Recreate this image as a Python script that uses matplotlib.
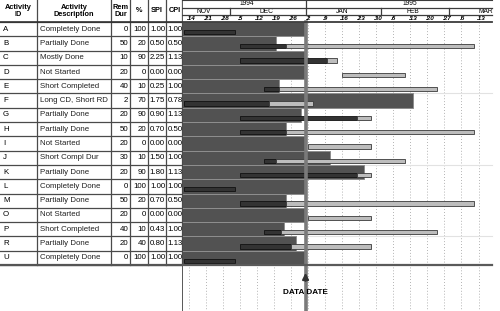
"""
Earned-value Gantt chart: activity table on the left, schedule bars
on the right with the data date marked.
"""

import numpy as np
import matplotlib.pyplot as plt
import matplotlib.dates as mdates

plt.rcParams['font.family'] = ['Liberation Sans', 'DejaVu Sans']

ids = ['A', 'B', 'C', 'D', 'E', 'F', 'G', 'H', 'I', 'J', 'K', 'L', 'M',
       'O', 'P', 'R', 'U']
descs = ['Completely Done', 'Partially Done', 'Mostly Done', 'Not Started',
         'Short Completed', 'Long CD, Short RD', 'Partially Done',
         'Partially Done', 'Not Started', 'Short Compl Dur', 'Partially Done',
         'Completely Done', 'Partially Done', 'Not Started', 'Short Completed',
         'Partially Done', 'Completely Done']
rem_dur = [0, 50, 10, 20, 40, 2, 20, 50, 20, 30, 20, 0, 50, 20, 40, 20, 0]
pct = [100, 20, 90, 0, 10, 70, 90, 20, 0, 10, 90, 100, 20, 0, 10, 40, 100]
spi = [1.00, 0.50, 2.25, 0.00, 0.25, 1.75, 0.90, 0.70, 0.00, 1.50, 1.80,
       1.00, 0.70, 0.00, 0.43, 0.80, 1.00]
cpi = [1.00, 0.50, 1.13, 0.00, 1.00, 0.78, 1.13, 0.50, 0.00, 1.00, 1.13,
       1.00, 0.50, 0.00, 1.00, 1.13, 1.00]

# shaded (earned) block end, bar start, end of completed part, finish
shade_end = ['1995-01-01', '1994-12-20', '1995-01-01', '1995-01-01',
             '1994-12-21', '1995-02-14', '1994-12-30', '1994-12-24',
             '1995-01-01', '1995-01-11', '1995-01-25', '1995-01-01',
             '1994-12-24', '1995-01-01', '1994-12-23', '1994-12-28',
             '1995-01-01']
start = ['1994-11-12', '1994-12-05', '1994-12-05', '1995-01-16',
         '1994-12-15', '1994-11-12', '1994-12-05', '1994-12-05',
         '1995-01-02', '1994-12-15', '1994-12-05', '1994-11-12',
         '1994-12-05', '1995-01-02', '1994-12-15', '1994-12-05',
         '1994-11-12']
done = ['1994-12-03', '1994-12-24', '1995-01-10', '1995-01-16',
        '1994-12-21', '1994-12-17', '1995-01-22', '1994-12-24',
        '1995-01-02', '1994-12-20', '1995-01-22', '1994-12-03',
        '1994-12-24', '1995-01-02', '1994-12-22', '1994-12-26',
        '1994-12-03']
finish = ['1994-12-03', '1995-03-11', '1995-01-14', '1995-02-11',
          '1995-02-24', '1995-01-04', '1995-01-28', '1995-03-11',
          '1995-01-28', '1995-02-11', '1995-01-28', '1994-12-03',
          '1995-03-11', '1995-01-28', '1995-02-24', '1995-01-28',
          '1994-12-03']

data_date = '1995-01-01'
week_ticks = ['1994-11-14', '1994-11-21', '1994-11-28', '1994-12-05',
              '1994-12-12', '1994-12-19', '1994-12-26', '1995-01-02',
              '1995-01-09', '1995-01-16', '1995-01-23', '1995-01-30',
              '1995-02-06', '1995-02-13', '1995-02-20', '1995-02-27',
              '1995-03-06', '1995-03-13']
month_starts = ['1994-12-01', '1995-01-01', '1995-02-01', '1995-03-01']
month_labels = ['NOV', 'DEC', 'JAN', 'FEB', 'MAR']
month_label_at = ['1994-11-20', '1994-12-16', '1995-01-16', '1995-02-14',
                  '1995-03-16']
year_labels = ['1994', '1995']
year_label_at = ['1994-12-08', '1995-02-13']


def d(values):
    return mdates.date2num(np.array(values, dtype='datetime64[D]'))


def main():
    fig = plt.figure(figsize=(5.0, 3.11), dpi=100)
    n = len(ids)
    rows = np.arange(n)
    # y: row centres at 0..n-1; 14.3 px per row, header 22 px, footer 46 px
    y_top = -0.5 - 22 / 14.3
    y_bot = n - 0.5 + 46 / 14.3
    h1 = -0.5 - 14 / 14.3
    h2 = -0.5 - 7 / 14.3

    # ---------------- table ----------------
    ax_t = fig.add_axes([0, 0, 182 / 500, 1])
    ax_t.set_xlim(0, 182)
    ax_t.set_ylim(y_bot, y_top)
    ax_t.axis('off')
    line_c = '#4a4a4a'
    cols = [0, 37, 111, 130, 148, 166, 182]
    for cx in cols[1:]:
        ax_t.plot([cx, cx], [y_top, n - 0.5], color=line_c, lw=0.9)
    for b in np.arange(-0.5, n, 1.0):
        ax_t.plot([0, 182], [b, b], color=line_c, lw=0.9)
    ax_t.plot([0, 182], [n - 0.5, n - 0.5], color='#555555', lw=1.6)
    ax_t.plot([0, 182], [-0.5, -0.5], color='#333333', lw=1.2)

    heads = [('Activity\nID', 18.5), ('Activity\nDescription', 74),
             ('Rem\nDur', 120.5), ('%', 139), ('SPI', 157), ('CPI', 175)]
    for txt, hx in heads:
        ax_t.text(hx, (y_top - 0.5) / 2, txt, ha='center', va='center',
                  fontsize=5.3, fontweight='bold', linespacing=1.1)
    fs = 5.7
    for i in rows:
        ax_t.text(3, i, ids[i], ha='left', va='center', fontsize=fs)
        ax_t.text(40, i, descs[i], ha='left', va='center', fontsize=fs,
                  color='#222222')
        ax_t.text(128.5, i, str(rem_dur[i]), ha='right', va='center',
                  fontsize=fs)
        ax_t.text(146.5, i, str(pct[i]), ha='right', va='center', fontsize=fs)
        ax_t.text(157.5, i, '%.2f' % spi[i], ha='center', va='center',
                  fontsize=fs)
        ax_t.text(175, i, '%.2f' % cpi[i], ha='center', va='center',
                  fontsize=fs, clip_on=True)

    # ---------------- gantt ----------------
    ax = fig.add_axes([182 / 500, 0, 318 / 500, 1])
    x0 = d(['1995-01-02'])[0]
    left, right = x0 - 51.7, x0 + 78.8
    edge = x0 + 75.5
    ax.set_xlim(left, right)
    ax.set_ylim(y_bot, y_top)
    ax.axis('off')

    dd = d([data_date])[0]
    weeks = d(week_ticks)

    # weekly dotted grid
    for w in weeks:
        ax.plot([w, w], [-0.5, y_bot], color='#9a9a9a', lw=0.6,
                ls=(0, (1, 2.5)), zorder=1)
    # faint guide every five rows
    for b in [4.5, 9.5, 14.5]:
        ax.plot([dd, edge], [b, b], color='#e2e2e2', lw=0.8, zorder=1)

    s_end = d(shade_end)
    ax.barh(rows, s_end - left, left=left, height=1.0, color='#525252',
            edgecolor='#8e8e8e', lw=0.7, zorder=2)

    st, dn, fi = d(start), d(done), d(finish)
    by = rows + 0.2
    dark = dn - st
    light = fi - dn
    m = dark > 0
    ax.barh(by[m], dark[m], left=st[m], height=0.3, color='#333333',
            edgecolor='#111111', lw=0.6, zorder=3)
    m = light > 0
    ax.barh(by[m], light[m], left=dn[m], height=0.3, color='#bdbdbd',
            edgecolor='#3a3a3a', lw=0.6, zorder=3)

    # data date line and label
    ax.plot([dd, dd], [-0.5, y_bot], color='#7a7a7a', lw=2.6, zorder=4)
    ax.annotate('', xy=(dd, n - 0.15), xytext=(dd, n + 0.8),
                arrowprops=dict(arrowstyle='-|>', color='#333333', lw=1.5,
                                mutation_scale=9), zorder=5)
    ax.text(dd, n + 1.45, 'DATA DATE', ha='center', va='center',
            fontsize=5.9, fontweight='bold', zorder=6)

    # frame lines
    hc = '#3c3c3c'
    ax.plot([left, left], [y_top, y_bot], color=hc, lw=1.2, zorder=5)
    ax.plot([left, edge], [n - 0.5, n - 0.5], color='#5a5a5a', lw=1.6,
            zorder=5)
    for hy, lw in [(y_top + 0.03, 0.8), (h1, 0.9), (h2, 0.9), (-0.5, 1.3)]:
        ax.plot([left, edge], [hy, hy], color=hc, lw=lw, zorder=5)

    # header: years, months, weeks
    ax.plot([dd, dd], [y_top, h1], color=hc, lw=0.9)
    for lbl, at in zip(year_labels, d(year_label_at)):
        ax.text(at, (y_top + h1) / 2, lbl, ha='center', va='center',
                fontsize=4.8)
    for ms in d(month_starts):
        ax.plot([ms, ms], [h1, h2], color=hc, lw=0.9)
    for lbl, at in zip(month_labels, d(month_label_at)):
        ax.text(at, (h1 + h2) / 2, lbl, ha='center', va='center',
                fontsize=4.8)
    for lbl, w in zip(week_ticks, weeks):
        ax.plot([w, w], [h2, h2 + 0.12], color=hc, lw=0.6)
        ax.text(w - 0.8, (h2 - 0.5) / 2 + 0.03, '.' + str(int(lbl[-2:])),
                ha='left', va='center', fontsize=4.6, fontweight='bold',
                fontstyle='italic')

    fig.savefig('out.png', dpi=100)
    plt.close(fig)


if __name__ == '__main__':
    main()
